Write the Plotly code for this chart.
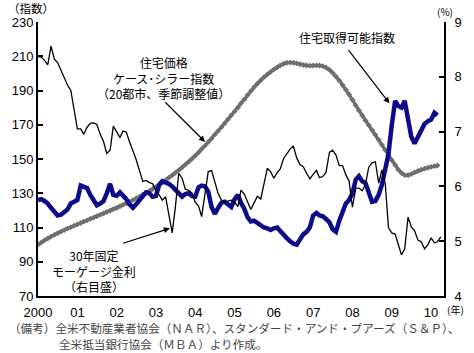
import pandas as pd
import plotly.graph_objects as go

# ---- data (monthly, Jan 2000 onward) ----
case_shiller = [
    100.0, 101.3, 102.5, 103.6, 104.7, 105.7, 106.7, 107.6, 108.5, 109.4, 110.2, 111.0,
    111.8, 112.6, 113.4, 114.2, 115.0, 115.8, 116.6, 117.4, 118.2, 119.0, 119.8, 120.6,
    121.4, 122.3, 123.2, 124.1, 125.0, 126.0, 127.0, 128.0, 129.1, 130.2, 131.3, 132.5,
    133.7, 135.0, 136.3, 137.7, 139.1, 140.5, 142.0, 143.5, 145.1, 146.7, 148.4, 150.1,
    151.9, 153.8, 155.8, 157.8, 159.9, 162.0, 164.2, 166.4, 168.6, 170.9, 173.2, 175.5,
    177.8, 180.1, 182.5, 184.8, 187.3, 189.7, 192.0, 194.1, 196.0, 197.8, 199.4, 200.9,
    202.3, 203.6, 204.7, 205.6, 206.2, 206.4, 206.2, 205.8, 205.3, 204.9, 204.6, 204.5,
    204.6, 204.7, 204.6, 204.2, 203.4, 202.1, 200.3, 198.2, 195.8, 193.2, 190.5, 187.7,
    184.6, 181.3, 178.3, 175.4, 172.5, 169.7, 166.9, 164.1, 161.2, 158.3, 155.3, 152.3,
    149.3, 146.5, 143.9, 141.8, 140.6, 140.5, 141.2, 142.2, 143.1, 143.8, 144.4, 144.9,
    145.4, 145.8, 146.2,
]

affordability = [
    126.0, 126.5, 125.5, 124.0, 121.5, 119.0, 117.0, 117.5, 119.0, 120.5, 124.0, 125.0,
    126.0, 134.5, 134.0, 133.0, 129.0, 125.5, 123.0, 124.0, 125.5, 130.0, 135.5, 129.0,
    128.5, 130.5, 129.0, 126.5, 123.5, 121.5, 123.5, 126.0, 128.0, 130.5, 130.0, 128.0,
    128.5, 135.0, 137.0, 136.5, 135.5, 134.0, 132.0, 129.5, 128.0, 129.5, 130.0, 128.5,
    128.0, 133.5, 134.5, 134.0, 131.0, 122.0, 118.0, 121.5, 124.5, 125.0, 123.5, 122.0,
    126.5, 129.0, 124.5, 121.0, 116.0, 113.5, 114.0, 112.5, 111.0, 110.0, 109.5, 108.5,
    109.5, 110.0, 108.0, 105.5, 103.8, 102.0, 100.5, 100.0, 103.0, 106.0, 107.5, 110.0,
    117.0, 118.5, 117.0, 116.5, 115.0, 113.0, 109.0, 107.5, 114.0, 120.0, 124.0, 126.0,
    130.0, 138.0, 140.0, 137.0, 136.0, 130.5, 125.0, 125.5, 129.0, 135.0, 145.0, 153.0,
    170.0, 184.0, 181.0, 180.0, 184.0, 173.0, 163.0, 159.0, 163.0, 167.5, 170.5, 172.0,
    173.0, 177.0, 175.5,
]

mortgage_rate = [
    8.37, 8.36, 8.30, 8.22, 8.56, 8.32, 8.26, 8.12, 7.98, 7.85, 7.75, 7.40,
    7.05, 7.05, 6.95, 7.08, 7.15, 7.16, 7.13, 6.95, 6.82, 6.60, 6.66, 7.10,
    7.00, 6.89, 7.01, 6.99, 6.81, 6.65, 6.49, 6.29, 6.09, 6.11, 6.07, 6.05,
    5.92, 5.84, 5.75, 5.81, 5.48, 5.15, 5.63, 6.24, 6.15, 5.95, 5.93, 5.88,
    5.71, 5.64, 5.45, 5.83, 6.27, 6.29, 6.06, 5.87, 5.75, 5.72, 5.73, 5.75,
    5.71, 5.63, 5.93, 5.86, 5.72, 5.58, 5.70, 5.82, 5.77, 6.07, 6.33, 6.27,
    6.15, 6.25, 6.32, 6.51, 6.60, 6.68, 6.74, 6.52, 6.40, 6.36, 6.24, 6.14,
    6.22, 6.29, 6.16, 6.18, 6.26, 6.62, 6.66, 6.57, 6.38, 6.38, 6.21, 6.10,
    5.62, 5.97, 5.97, 5.92, 6.04, 6.35, 6.43, 6.45, 6.06, 6.30, 6.05, 5.25,
    5.15, 5.13, 4.95, 4.75, 4.86, 5.44, 5.26, 5.19, 5.02, 4.99, 4.86, 4.93,
    5.06, 4.97, 4.99, 5.08,
]

year_ticks = [f"{y}-01-01" for y in range(2000, 2011)]
year_labels = ["2000", "01", "02", "03", "04", "05", "06", "07", "08", "09", "10"]

d_cs = pd.date_range("2000-01-01", periods=len(case_shiller), freq="MS")
d_af = pd.date_range("2000-01-01", periods=len(affordability), freq="MS")
d_mr = pd.date_range("2000-01-01", periods=len(mortgage_rate), freq="MS")

JP = "Noto Sans CJK JP"
NUM = "Arial, Liberation Sans"

fig = go.Figure()
fig.add_trace(go.Scatter(x=d_cs, y=case_shiller, mode="lines+markers",
                         line=dict(color="#6e6e6e", width=3.2),
                         marker=dict(color="#6e6e6e", size=4.5, symbol="diamond"),
                         yaxis="y", showlegend=False, hoverinfo="skip"))
fig.add_trace(go.Scatter(x=d_af, y=affordability, mode="lines",
                         line=dict(color="#0b0b8c", width=4.5),
                         yaxis="y", showlegend=False, hoverinfo="skip"))
fig.add_trace(go.Scatter(x=d_mr, y=mortgage_rate, mode="lines",
                         line=dict(color="#000000", width=1.3),
                         yaxis="y2", showlegend=False, hoverinfo="skip"))

fig.update_layout(
    width=474, height=353,
    margin=dict(l=35, r=26, t=22, b=57),
    paper_bgcolor="white", plot_bgcolor="white",
    font=dict(family=NUM, size=13, color="black"),
    xaxis=dict(type="date", range=["2000-01-01", "2010-05-01"],
               tickvals=year_ticks, ticktext=year_labels, ticks="",
               showline=True, linecolor="black", linewidth=2,
               showgrid=False, zeroline=False, ticklabelstandoff=3,
               tickfont=dict(family=NUM, size=13)),
    yaxis=dict(range=[70, 230], dtick=20, tick0=70, ticks="inside", ticklen=5,
               tickwidth=1.5, tickcolor="black",
               showline=True, linecolor="black", linewidth=2,
               showgrid=False, zeroline=False,
               tickfont=dict(family=NUM, size=13)),
    yaxis2=dict(range=[4, 9], dtick=1, tick0=4, overlaying="y", side="right",
                ticks="inside", ticklen=5, tickwidth=1.5, tickcolor="black",
                showline=True, linecolor="black", linewidth=2,
                showgrid=False, zeroline=False, ticklabelstandoff=6,
                tickfont=dict(family=NUM, size=13)),
)

ann = []
# series labels
ann.append(dict(x="2003-03-15", y=197.5, xref="x", yref="y",
                xanchor="center", yanchor="middle",
                text="住宅価格<br>ケース･シラー指数<br>（20都市、季節調整値）",
                showarrow=False, font=dict(family=JP, size=12), align="center"))
ann.append(dict(x="2007-11-15", y=221, xref="x", yref="y",
                xanchor="center", yanchor="middle",
                text="住宅取得可能指数", showarrow=False,
                font=dict(family=JP, size=12), align="center"))
ann.append(dict(x="2001-06-01", y=84.5, xref="x", yref="y",
                xanchor="center", yanchor="middle",
                text="30年固定<br>モーゲージ金利<br>（右目盛）",
                showarrow=False, font=dict(family=JP, size=12), align="center"))
# arrows
arrow_style = dict(showarrow=True, arrowhead=2, arrowsize=1, arrowwidth=1.2,
                   arrowcolor="black", text="", xref="x", yref="y",
                   axref="x", ayref="y")
ann.append(dict(x="2004-04-01", y=160, ax="2003-03-15", ay=184, **arrow_style))
ann.append(dict(x="2008-12-10", y=182.5, ax="2007-11-15", ay=214.5, **arrow_style))
ann.append(dict(x="2003-05-10", y=109.5, ax="2002-02-15", ay=100.5, **arrow_style))
# axis titles
ann.append(dict(x=-0.017, y=1.052, xref="paper", yref="paper",
                xanchor="center", yanchor="middle", text="（指数）",
                showarrow=False, font=dict(family=JP, size=11.5)))
ann.append(dict(x=1.002, y=1.040, xref="paper", yref="paper",
                xanchor="center", yanchor="middle", text="(%)",
                showarrow=False, font=dict(family=JP, size=10)))
ann.append(dict(x=1.028, y=-0.051, xref="paper", yref="paper",
                xanchor="center", yanchor="middle", text="(年)",
                showarrow=False, font=dict(family=JP, size=10)))
# footnote
ann.append(dict(x=-0.077, y=-0.117, xref="paper", yref="paper", xanchor="left",
                yanchor="middle",
                text="（備考）全米不動産業者協会（ＮＡＲ）、スタンダード・アンド・プアーズ（Ｓ＆Ｐ）、",
                showarrow=False, font=dict(family=JP, size=11.6, color="#444444")))
ann.append(dict(x=0.048, y=-0.175, xref="paper", yref="paper", xanchor="left",
                yanchor="middle",
                text="全米抵当銀行協会（ＭＢＡ）より作成。",
                showarrow=False, font=dict(family=JP, size=11.6, color="#444444")))
fig.update_layout(annotations=ann)

fig.write_html("out.html")
